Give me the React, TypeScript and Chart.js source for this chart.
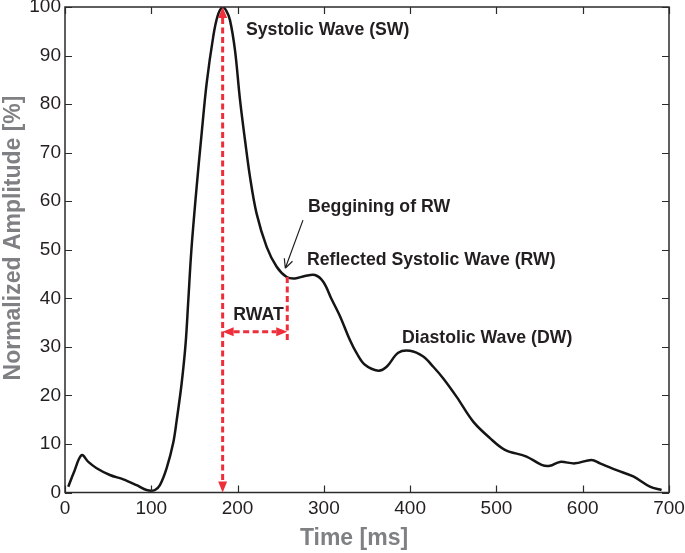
import React, { useEffect, useRef } from "react";
import { Chart, registerables } from "chart.js";

Chart.register(...registerables);

// Time [ms]
const timeMs = [
  3.8, 10, 19.3, 27, 36.7, 52, 67.6, 83, 94.6, 104,
  110, 117.8, 125.5, 129.4, 135.2, 139.8, 142.9, 146.5, 152.6, 158.4,
  164.2, 171.8, 177, 182.7, 187, 191.2, 197, 202.8, 208.6, 214.4,
  222, 233.7, 245.3, 256.9, 266.5, 278, 289.7, 299.3, 309, 318.7,
  330.2, 338, 347.6, 363, 372.8, 386.2, 399.8, 415.2, 426.8, 438.4,
  453.9, 473.1, 492.5, 509.8, 534.9, 552.3, 562, 573.6, 591, 610.3,
  620, 639.3, 658.6, 677.9, 691.4,
];
// Normalized amplitude [%]
const amplitude = [
  1.2, 4.0, 7.7, 6.3, 5.0, 3.6, 2.7, 1.5, 0.5, 0.5,
  1.5, 5.0, 10.3, 14.8, 22.5, 30.7, 39.6, 50.0, 63, 74,
  84.3, 93.9, 98.2, 100, 99.2, 97.3, 91.1, 80.9, 72.6, 65,
  57.5, 50.6, 46.5, 44.4, 44.1, 44.6, 44.8, 43.4, 39.8, 36.3,
  31.4, 28.7, 26.3, 25.1, 25.9, 28.8, 29.2, 28.0, 25.9, 23.5,
  19.7, 14.6, 11.2, 8.8, 7.4, 5.7, 5.5, 6.3, 6.0, 6.7,
  6.0, 4.6, 3.3, 1.2, 0.5,
];

const xTickStep = 100;
const yTickStep = 10;

// Annotation anchors (data units)
const swPoint = { t: 182.7, v: 100 };
const rwPoint = { t: 257.6, v: 44.4 };
const rwatLevel = 33.1;
const rwLineBottom = 30.7;
const beginArrow = { fromT: 275.8, fromV: 56.1, toT: 255.3, toV: 46.2 };
const labels = [
  { text: "Systolic Wave (SW)", t: 209.7, v: 95.3 },
  { text: "Beggining of RW", t: 281.6, v: 58.8 },
  { text: "Reflected Systolic Wave (RW)", t: 280.4, v: 47.9 },
  { text: "Diastolic Wave (DW)", t: 390.5, v: 31.8 },
  { text: "RWAT", t: 195, v: 36.6 },
];

const RED = "#ee2e3b";
const DARK = "#231f20";
const GRAY = "#7f8083";
const FONT = '"Liberation Sans", Arial, sans-serif';

function arrowHead(ctx: CanvasRenderingContext2D, x: number, y: number, ang: number, len: number, w: number) {
  ctx.save();
  ctx.translate(x, y);
  ctx.rotate(ang);
  ctx.beginPath();
  ctx.moveTo(0, 0);
  ctx.lineTo(-len, -w / 2);
  ctx.lineTo(-len, w / 2);
  ctx.closePath();
  ctx.fill();
  ctx.restore();
}

const overlay = {
  id: "overlay",
  afterDatasetsDraw(chart: any) {
    const { ctx, chartArea: a, scales } = chart;
    const xs = scales.x;
    const ys = scales.y;
    ctx.save();
    // frame
    ctx.strokeStyle = "#2b2b2b";
    ctx.lineWidth = 1.5;
    ctx.strokeRect(a.left, a.top, a.right - a.left, a.bottom - a.top);
    // inward ticks
    ctx.lineWidth = 1.2;
    ctx.beginPath();
    xs.ticks.forEach((tk: any) => {
      const px = Math.round(xs.getPixelForValue(tk.value)) + 0.5;
      ctx.moveTo(px, a.bottom);
      ctx.lineTo(px, a.bottom - 7);
      ctx.moveTo(px, a.top);
      ctx.lineTo(px, a.top + 7);
    });
    ys.ticks.forEach((tk: any) => {
      const py = Math.round(ys.getPixelForValue(tk.value)) + 0.5;
      ctx.moveTo(a.left, py);
      ctx.lineTo(a.left + 7, py);
      ctx.moveTo(a.right, py);
      ctx.lineTo(a.right - 7, py);
    });
    ctx.stroke();

    // red annotations
    const px = (t: number) => xs.getPixelForValue(t);
    const py = (v: number) => ys.getPixelForValue(v);
    const hl = 11;
    const hw = 9;
    ctx.strokeStyle = RED;
    ctx.fillStyle = RED;
    ctx.lineWidth = 3;
    ctx.setLineDash([6, 3.5]);
    const sx = px(swPoint.t);
    const topY = py(swPoint.v);
    const botY = py(0);
    ctx.beginPath();
    ctx.moveTo(sx, topY + hl);
    ctx.lineTo(sx, botY - hl);
    const rx = px(rwPoint.t);
    ctx.moveTo(rx, py(rwPoint.v));
    ctx.lineTo(rx, py(rwLineBottom));
    const hy = py(rwatLevel);
    ctx.moveTo(sx + hl, hy);
    ctx.lineTo(rx - hl, hy);
    ctx.stroke();
    ctx.setLineDash([]);
    arrowHead(ctx, sx, topY, -Math.PI / 2, hl, hw);
    arrowHead(ctx, sx, botY, Math.PI / 2, hl, hw);
    arrowHead(ctx, sx, hy, Math.PI, hl, hw);
    arrowHead(ctx, rx, hy, 0, hl, hw);

    // black pointer arrow
    const fx = px(beginArrow.fromT), fy = py(beginArrow.fromV);
    const tx = px(beginArrow.toT), ty = py(beginArrow.toV);
    ctx.strokeStyle = DARK;
    ctx.lineWidth = 1.2;
    ctx.beginPath();
    ctx.moveTo(fx, fy);
    ctx.lineTo(tx, ty);
    const ang = Math.atan2(ty - fy, tx - fx);
    const L = 10;
    ctx.moveTo(tx, ty);
    ctx.lineTo(tx - L * Math.cos(ang - 0.45), ty - L * Math.sin(ang - 0.45));
    ctx.moveTo(tx, ty);
    ctx.lineTo(tx - L * Math.cos(ang + 0.45), ty - L * Math.sin(ang + 0.45));
    ctx.stroke();

    // labels
    ctx.fillStyle = DARK;
    ctx.font = `bold 17.7px ${FONT}`;
    ctx.textBaseline = "middle";
    ctx.textAlign = "left";
    labels.forEach((l) => ctx.fillText(l.text, px(l.t), py(l.v)));

    // axis titles
    ctx.fillStyle = GRAY;
    ctx.font = `bold 23px ${FONT}`;
    ctx.textAlign = "center";
    ctx.fillText("Time [ms]", 354, 539);
    ctx.translate(14, 238);
    ctx.rotate(-Math.PI / 2);
    ctx.fillText("Normalized Amplitude [%]", 0, 0);
    ctx.restore();
  },
};

export default function App() {
  const ref = useRef<HTMLCanvasElement>(null);
  useEffect(() => {
    if (!ref.current) return;
    const chart = new Chart(ref.current, {
      type: "line",
      data: {
        datasets: [
          {
            data: timeMs.map((t, i) => ({ x: t, y: amplitude[i] })),
            borderColor: "#151515",
            borderWidth: 2.5,
            pointRadius: 0,
            tension: 0.35,
            fill: false,
          },
        ],
      },
      options: {
        responsive: false,
        animation: false,
        layout: { padding: { top: 7, right: 16, left: 0, bottom: 0 } },
        plugins: { legend: { display: false }, tooltip: { enabled: false } },
        scales: {
          x: {
            type: "linear",
            min: 0,
            max: 700,
            ticks: {
              stepSize: xTickStep,
              font: { family: FONT, size: 19 },
              color: DARK,
              padding: 5,
              maxRotation: 0,
            },
            grid: { display: false, drawTicks: false },
            border: { display: false },
            afterFit: (s: any) => {
              s.height = 60.5;
              s.paddingLeft = 0;
              s.paddingRight = 0;
            },
          },
          y: {
            type: "linear",
            min: 0,
            max: 100,
            ticks: {
              stepSize: yTickStep,
              font: { family: FONT, size: 19 },
              color: DARK,
              padding: 4,
            },
            grid: { display: false, drawTicks: false },
            border: { display: false },
            afterFit: (s: any) => {
              s.width = 65;
              s.paddingTop = 0;
              s.paddingBottom = 0;
            },
          },
        },
      } as any,
      plugins: [overlay],
    });
    return () => chart.destroy();
  }, []);
  return (
    <div style={{ position: "fixed", left: 0, top: 0, width: 685, height: 553, background: "#fff" }}>
      <canvas ref={ref} width={685} height={553} style={{ width: 685, height: 553 }} />
    </div>
  );
}
